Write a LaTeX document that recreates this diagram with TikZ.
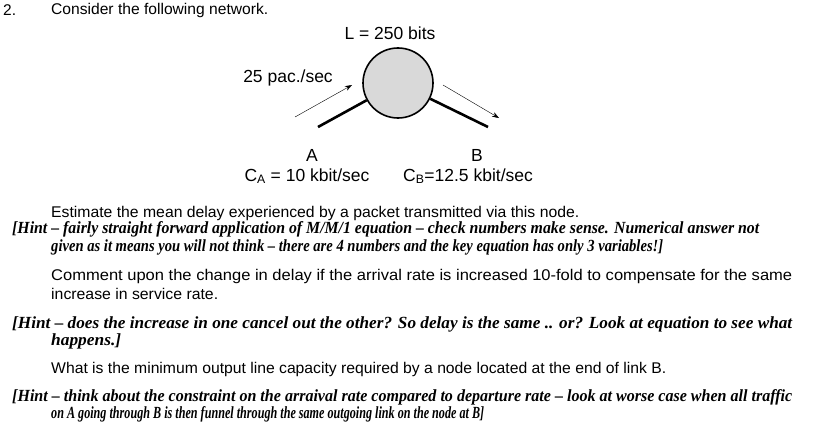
\documentclass[tikz,border=0pt]{standalone}
\usepackage{fontspec}
\usepackage{graphicx}
\setmainfont{Liberation Sans}
\newfontfamily\hintfont{Liberation Serif}
\usetikzlibrary{arrows.meta}
\tikzset{
  body/.style={anchor=west,inner sep=0pt,font=\fontsize{15.5}{18}\selectfont},
  hint/.style={anchor=west,inner sep=0pt,font=\fontsize{17}{19}\hintfont\bfseries\itshape},
  lbl/.style={inner sep=0pt,font=\fontsize{17.5}{20}\selectfont},
  link/.style={line width=2.6pt},
  flow/.style={thin,-{Stealth[length=7pt,width=5pt]}}
}
\begin{document}
\begin{tikzpicture}[x=1pt,y=-1pt]
\useasboundingbox (0,0) rectangle (821,428);
\node[body] (num) at (3,10) {2.};
\node[body] (q) at (51,10) {\resizebox{217pt}{\height}{Consider the following network.}};
% diagram
\node[circle,draw,line width=1.6pt,fill=black!15,minimum size=70pt,inner sep=0pt] (n) at (398,83) {};
\coordinate (a) at (318,127);
\coordinate (b) at (488,127);
\draw[link] (a) -- (n);
\draw[link] (n) -- (b);
\coordinate (a1) at (295,117); \coordinate (a2) at (352,85);
\coordinate (b1) at (443,85); \coordinate (b2) at (499,118);
\draw[flow] (a1) -- (a2);
\draw[flow] (b1) -- (b2);
\node[lbl] (L) at (390,33) {L = 250 bits};
\node[lbl] (r) at (288,78) {25 pac./sec};
\node[lbl] (A) at (312,155) {A};
\node[lbl] (B) at (477,155) {B};
\node[lbl] (ca) at (307,176) {C\textsubscript{A} = 10 kbit/sec};
\node[lbl] (cb) at (468,176) {C\textsubscript{B}=12.5 kbit/sec};
% text
\node[body] (t1) at (51,213) {\resizebox{528pt}{\height}{Estimate the mean delay experienced by a packet transmitted via this node.}};
\node[hint] (h1) at (12,229) {\resizebox{747pt}{\height}{[Hint \textendash{} fairly straight forward application of M/M/1 equation \textendash{} check numbers make sense. Numerical answer not}};
\node[hint] (h1b) at (51,247) {\resizebox{612pt}{\height}{given as it means you will not think \textendash{} there are 4 numbers and the key equation has only 3 variables!]}};
\node[body] (t2) at (51,276) {\resizebox{741pt}{\height}{Comment upon the change in delay if the arrival rate is increased 10-fold to compensate for the same}};
\node[body] (t2b) at (51,294) {\resizebox{167pt}{\height}{increase in service rate.}};
\node[hint] (h2) at (12,324) {\resizebox{780pt}{\height}{[Hint \textendash{} does the increase in one cancel out the other? So delay is the same .. or? Look at equation to see what}};
\node[hint] (h2b) at (51,341) {\resizebox{70pt}{\height}{happens.]}};
\node[body] (t3) at (51,369) {\resizebox{615pt}{\height}{What is the minimum output line capacity required by a node located at the end of link B.}};
\node[hint] (h3) at (12,397) {\resizebox{780pt}{\height}{[Hint \textendash{} think about the constraint on the arraival rate compared to departure rate \textendash{} look at worse case when all traffic}};
\node[hint] (h3b) at (51,414) {\resizebox{433pt}{\height}{on A going through B is then funnel through the same outgoing link on the node at B]}};
\end{tikzpicture}
\end{document}
